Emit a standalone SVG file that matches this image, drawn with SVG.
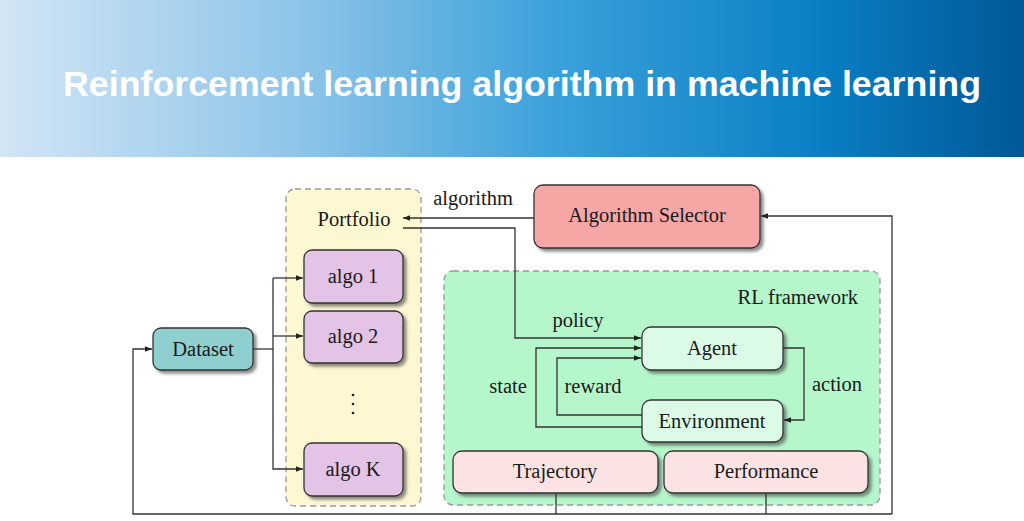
<svg xmlns="http://www.w3.org/2000/svg" width="1024" height="521" viewBox="0 0 1024 521">
<defs>
<linearGradient id="bg" x1="0" y1="0" x2="1" y2="0">
<stop offset="0" stop-color="#d2e5f5"/>
<stop offset="0.3" stop-color="#8cc4e8"/>
<stop offset="0.55" stop-color="#38a0da"/>
<stop offset="0.8" stop-color="#0a7fc4"/>
<stop offset="1" stop-color="#005896"/>
</linearGradient>
<filter id="sh" x="-10%" y="-20%" width="130%" height="150%">
<feDropShadow dx="3" dy="3" stdDeviation="1.5" flood-color="#444" flood-opacity="0.6"/>
</filter>
<marker id="ar" viewBox="0 0 10 10" refX="10" refY="5" markerWidth="7" markerHeight="7" orient="auto" markerUnits="userSpaceOnUse">
<path d="M0,1 L10,5 L0,9 z" fill="#222"/>
</marker>
<style>
.t{font-family:"Liberation Serif","Times New Roman",serif;font-size:20.5px;fill:#1a1a1a;text-anchor:middle}
.box{stroke:#333;stroke-width:1.3}
.algo{fill:#e4c4e6}
.ln{fill:none;stroke:#333;stroke-width:1.3}
.dash{stroke:#999;stroke-width:1.3;stroke-dasharray:6 4}
</style>
</defs>
<rect x="0" y="0" width="1024" height="521" fill="#fff"/>
<rect x="0" y="0" width="1024" height="157" fill="url(#bg)"/>
<text x="522" y="96" font-family="'Liberation Sans',Arial,sans-serif" font-weight="bold" font-size="35" fill="#fff" text-anchor="middle" textLength="918" lengthAdjust="spacingAndGlyphs">Reinforcement learning algorithm in machine learning</text>

<g id="portfolio">
<rect x="286" y="189" width="135" height="317" rx="9" fill="#fdf7d2" class="dash"/>
<text class="t" x="354" y="226">Portfolio</text>
</g>
<g id="rl-framework">
<rect x="444" y="271" width="436" height="234" rx="9" fill="#b5f6cb" class="dash"/>
<text class="t" x="858" y="304" style="text-anchor:end">RL framework</text>
</g>
<g id="algo1">
<rect x="304" y="250" width="99" height="53" rx="8" class="box algo" filter="url(#sh)"/>
<text class="t" x="353" y="283">algo 1</text>
</g>
<g id="algo2">
<rect x="304" y="311" width="99" height="52" rx="8" class="box algo" filter="url(#sh)"/>
<text class="t" x="353" y="343">algo 2</text>
</g>
<g id="dots">
<circle cx="353" cy="395" r="1.3" fill="#222"/>
<circle cx="353" cy="404" r="1.3" fill="#222"/>
<circle cx="353" cy="413" r="1.3" fill="#222"/>
</g>
<g id="algoK">
<rect x="304" y="443" width="99" height="53" rx="8" class="box algo" filter="url(#sh)"/>
<text class="t" x="353" y="476">algo K</text>
</g>
<g id="dataset">
<rect x="153" y="328" width="100" height="42" rx="8" class="box" fill="#8fcfd0" filter="url(#sh)"/>
<text class="t" x="203" y="356">Dataset</text>
</g>
<g id="selector">
<rect x="534" y="185" width="226" height="63" rx="9" class="box" fill="#f7a6a6" filter="url(#sh)"/>
<text class="t" x="647" y="222">Algorithm Selector</text>
</g>
<g id="agent">
<rect x="642" y="327" width="141" height="43" rx="9" class="box" fill="#dcfbe7" filter="url(#sh)"/>
<text class="t" x="712" y="355">Agent</text>
</g>
<g id="environment">
<rect x="642" y="400" width="141" height="42" rx="9" class="box" fill="#dcfbe7" filter="url(#sh)"/>
<text class="t" x="712" y="428">Environment</text>
</g>
<g id="trajectory">
<rect x="453" y="451" width="205" height="42" rx="9" class="box" fill="#fbe3e3" filter="url(#sh)"/>
<text class="t" x="555" y="478">Trajectory</text>
</g>
<g id="performance">
<rect x="664" y="451" width="204" height="42" rx="9" class="box" fill="#fbe3e3" filter="url(#sh)"/>
<text class="t" x="766" y="478">Performance</text>
</g>

<g id="connectors">
<path class="ln" d="M253,349 H273"/>
<path class="ln" d="M273,278 V469 H303" marker-end="url(#ar)"/>
<path class="ln" d="M273,278 H303" marker-end="url(#ar)"/>
<path class="ln" d="M273,336 H303" marker-end="url(#ar)"/>
<path class="ln" d="M534,218 H403" marker-end="url(#ar)"/>
<path class="ln" d="M403,228 H515 V338 H641" marker-end="url(#ar)"/>
<path class="ln" d="M642,427 H536 V348 H641" marker-end="url(#ar)"/>
<path class="ln" d="M642,415 H557 V358 H641" marker-end="url(#ar)"/>
<path class="ln" d="M783,348 H804 V420 H784" marker-end="url(#ar)"/>
<path class="ln" d="M556,493 V514"/>
<path class="ln" d="M766,493 V514"/>
<path class="ln" d="M892,514 V216 H761" marker-end="url(#ar)"/>
<path class="ln" d="M892,514 H133 V349 H152" marker-end="url(#ar)"/>
<text class="t" x="473" y="205">algorithm</text>
<text class="t" x="578" y="327">policy</text>
<text class="t" x="508" y="393">state</text>
<text class="t" x="593" y="393">reward</text>
<text class="t" x="837" y="391">action</text>
</g>
</svg>
